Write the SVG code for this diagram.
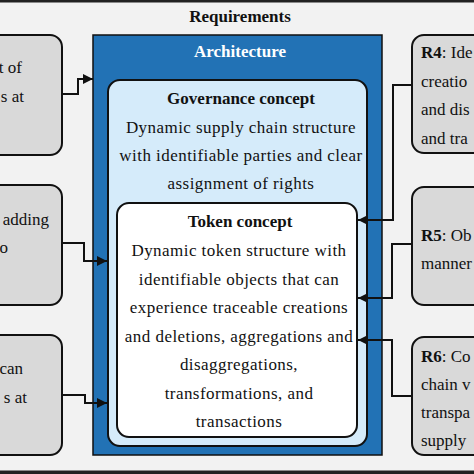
<svg xmlns="http://www.w3.org/2000/svg" width="474" height="474" viewBox="0 0 474 474">
<style>
text{font-family:"Liberation Serif","Times New Roman",serif;font-size:17px;fill:#111}
.b{font-weight:bold}
.c{text-anchor:middle}
.e{text-anchor:end}
.t{letter-spacing:0.45px}
.req{fill:#d9d9d9;stroke:#111;stroke-width:2}
.con{fill:none;stroke:#111;stroke-width:2}
</style>
<defs>
<marker id="ah" viewBox="0 0 10 10" refX="10" refY="5" markerWidth="10" markerHeight="10" markerUnits="userSpaceOnUse" orient="auto">
<path d="M0,0 L10,5 L0,10 z" fill="#111"/>
</marker>
</defs>
<rect x="0" y="0" width="474" height="474" fill="#f2f2f2"/>
<rect x="0" y="0" width="474" height="2.5" fill="#222"/>
<rect x="0" y="470.5" width="474" height="3.5" fill="#222"/>
<text class="b c" x="240" y="22">Requirements</text>

<g id="arch">
<rect x="93" y="35" width="289" height="420" fill="#2272b5" stroke="#111" stroke-width="1.5"/>
<text class="b c" x="240" y="57" style="fill:#ffffff">Architecture</text>
</g>
<g id="governance">
<rect x="108" y="80" width="259" height="366" rx="12" fill="#d5ebfa" stroke="#111" stroke-width="2"/>
<text class="b c" x="241" y="104">Governance concept</text>
<text class="c t" x="241" y="133">Dynamic supply chain structure</text>
<text class="c t" x="241" y="161">with identifiable parties and clear</text>
<text class="c t" x="241" y="189">assignment of rights</text>
</g>
<g id="token">
<rect x="117" y="203" width="240" height="234" rx="12" fill="#ffffff" stroke="#111" stroke-width="2"/>
<text class="b c" x="240" y="227">Token concept</text>
<text class="c t" x="239" y="256">Dynamic token structure with</text>
<text class="c t" x="239" y="285">identifiable objects that can</text>
<text class="c t" x="239" y="313">experience traceable creations</text>
<text class="c t" x="239" y="342">and deletions, aggregations and</text>
<text class="c t" x="239" y="370">disaggregations,</text>
<text class="c t" x="239" y="399">transformations, and</text>
<text class="c t" x="239" y="427">transactions</text>
</g>

<g id="r1">
<rect class="req" x="-60" y="35" width="122" height="120" rx="12"/>
<text class="e" x="22" y="73">t of</text>
<text class="e" x="24" y="102">s at</text>
</g>
<g id="r2">
<rect class="req" x="-60" y="185" width="122" height="120" rx="12"/>
<text class="e" x="49" y="225">adding</text>
<text class="e" x="8" y="253">o</text>
</g>
<g id="r3">
<rect class="req" x="-60" y="335" width="122" height="120" rx="12"/>
<text class="e" x="23" y="374">can</text>
<text class="e" x="27" y="403">s at</text>
</g>
<g id="r4">
<rect class="req" x="412" y="35" width="120" height="118" rx="12"/>
<text x="421" y="58"><tspan class="b">R4</tspan>: Ide</text>
<text x="421" y="87">creatio</text>
<text x="421" y="115">and dis</text>
<text x="421" y="144">and tra</text>
</g>
<g id="r5">
<rect class="req" x="412" y="187" width="120" height="118" rx="12"/>
<text x="421" y="241"><tspan class="b">R5</tspan>: Ob</text>
<text x="421" y="269">manner</text>
</g>
<g id="r6">
<rect class="req" x="412" y="337" width="120" height="118" rx="12"/>
<text x="421" y="362"><tspan class="b">R6</tspan>: Co</text>
<text x="421" y="390">chain v</text>
<text x="421" y="418">transpa</text>
<text x="421" y="446">supply</text>
</g>

<g id="connectors">
<path class="con" d="M62,94 H78 V79 H93" marker-end="url(#ah)"/>
<path class="con" d="M62,243 H84 V261 H107" marker-end="url(#ah)"/>
<path class="con" d="M62,395 H85 V403 H107" marker-end="url(#ah)"/>
<path class="con" d="M412,85 H393 V220 H358" marker-end="url(#ah)"/>
<path class="con" d="M412,244 H392 V298 H358" marker-end="url(#ah)"/>
<path class="con" d="M412,396 H392 V340 H358" marker-end="url(#ah)"/>
</g>
</svg>
